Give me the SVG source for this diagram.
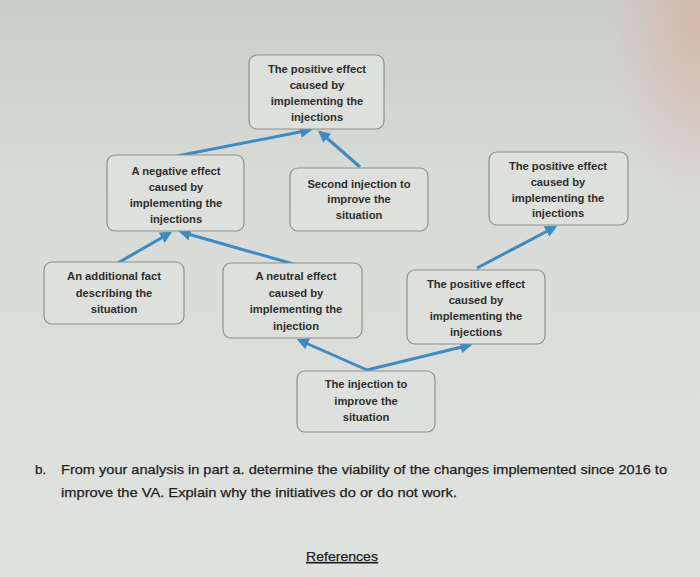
<svg xmlns="http://www.w3.org/2000/svg" width="700" height="577" viewBox="0 0 700 577">
<defs>
<linearGradient id="bg" x1="0" y1="0" x2="0" y2="1">
<stop offset="0" stop-color="#cbcdca"/>
<stop offset="0.3" stop-color="#d8dad7"/>
<stop offset="1" stop-color="#e0e2df"/>
</linearGradient>
<radialGradient id="edge" gradientUnits="userSpaceOnUse" cx="700" cy="20" r="90" gradientTransform="translate(700 20) scale(1 2) translate(-700 -20)">
<stop offset="0" stop-color="#d8a996" stop-opacity="0.6"/>
<stop offset="1" stop-color="#d8a996" stop-opacity="0"/>
</radialGradient>
<marker id="ah" viewBox="0 0 10 10" refX="8" refY="5" markerWidth="4" markerHeight="4" orient="auto-start-reverse" markerUnits="strokeWidth">
<path d="M0,0 L10,5 L0,10 z" fill="#3d8bbf"/>
</marker>
<style>
.box{fill:#dee0dd;stroke:#8e908e;stroke-width:1.2}
.t{font-family:"Liberation Sans",Arial,sans-serif;font-size:11.2px;font-weight:bold;fill:#2e2e2e;text-anchor:middle}
.c{stroke:#3d8bbf;stroke-width:3;fill:none;marker-end:url(#ah)}
.q{font-family:"Liberation Sans",Arial,sans-serif;font-size:13.5px;fill:#1e1e1e;stroke:#1e1e1e;stroke-width:0.25}
</style>
</defs>
<rect width="700" height="577" fill="url(#bg)"/>
<rect x="590" y="0" width="110" height="220" fill="url(#edge)"/>

<g id="connectors">
<line class="c" x1="177" y1="156" x2="310" y2="130"/>
<line class="c" x1="360" y1="167" x2="320" y2="132"/>
<line class="c" x1="116" y1="264" x2="170" y2="233"/>
<line class="c" x1="297" y1="265" x2="181" y2="232"/>
<line class="c" x1="367" y1="370" x2="299" y2="340"/>
<line class="c" x1="367" y1="370" x2="470" y2="345"/>
<line class="c" x1="477" y1="268" x2="555" y2="227"/>
</g>

<g id="n1">
<rect class="box" x="249" y="55" width="135" height="74" rx="8"/>
<text class="t" x="317" y="73">The positive effect</text>
<text class="t" x="317" y="89">caused by</text>
<text class="t" x="317" y="105">implementing the</text>
<text class="t" x="317" y="121">injections</text>
</g>
<g id="n2">
<rect class="box" x="107" y="155" width="137" height="76" rx="8"/>
<text class="t" x="176" y="175">A negative effect</text>
<text class="t" x="176" y="191">caused by</text>
<text class="t" x="176" y="207">implementing the</text>
<text class="t" x="176" y="223">injections</text>
</g>
<g id="n3">
<rect class="box" x="290" y="168" width="138" height="63" rx="8"/>
<text class="t" x="359" y="188">Second injection to</text>
<text class="t" x="359" y="203">improve the</text>
<text class="t" x="359" y="219">situation</text>
</g>
<g id="n4">
<rect class="box" x="489" y="152" width="139" height="73" rx="8"/>
<text class="t" x="558" y="170">The positive effect</text>
<text class="t" x="558" y="186">caused by</text>
<text class="t" x="558" y="202">implementing the</text>
<text class="t" x="558" y="217">injections</text>
</g>
<g id="n5">
<rect class="box" x="44" y="262" width="140" height="62" rx="8"/>
<text class="t" x="114" y="280">An additional fact</text>
<text class="t" x="114" y="297">describing the</text>
<text class="t" x="114" y="313">situation</text>
</g>
<g id="n6">
<rect class="box" x="223" y="263" width="139" height="75" rx="8"/>
<text class="t" x="296" y="280">A neutral effect</text>
<text class="t" x="296" y="297">caused by</text>
<text class="t" x="296" y="313">implementing the</text>
<text class="t" x="296" y="330">injection</text>
</g>
<g id="n7">
<rect class="box" x="407" y="270" width="138" height="74" rx="8"/>
<text class="t" x="476" y="288">The positive effect</text>
<text class="t" x="476" y="304">caused by</text>
<text class="t" x="476" y="320">implementing the</text>
<text class="t" x="476" y="336">injections</text>
</g>
<g id="n8">
<rect class="box" x="297" y="371" width="138" height="61" rx="8"/>
<text class="t" x="366" y="388">The injection to</text>
<text class="t" x="366" y="405">improve the</text>
<text class="t" x="366" y="421">situation</text>
</g>

<text class="q" x="35" y="474">b.</text>
<text class="q" x="61" y="474" textLength="606" lengthAdjust="spacingAndGlyphs">From your analysis in part a. determine the viability of the changes implemented since 2016 to</text>
<text class="q" x="61" y="497" textLength="396" lengthAdjust="spacingAndGlyphs">improve the VA. Explain why the initiatives do or do not work.</text>
<text class="q" x="306" y="561" textLength="72" lengthAdjust="spacingAndGlyphs" text-decoration="underline">References</text>
</svg>
